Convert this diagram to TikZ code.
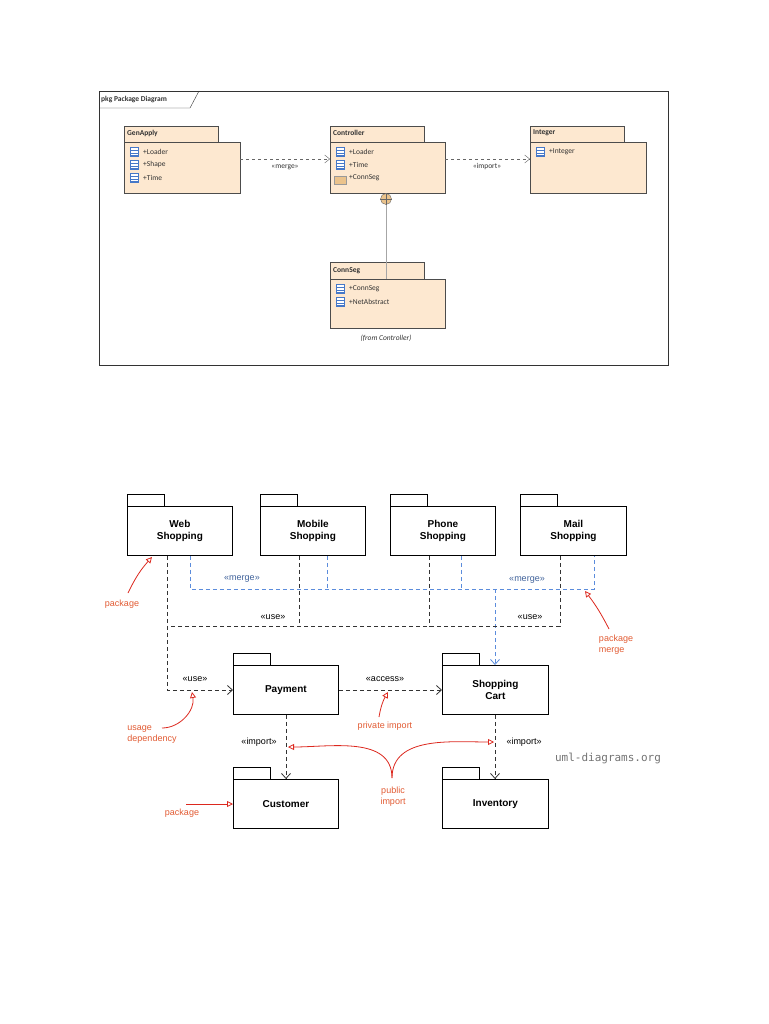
\documentclass[tikz,border=0pt]{standalone}
\usepackage{fontspec}
\setmainfont{Liberation Sans}
\newfontfamily\eafont{Carlito}
\newfontfamily\sitefont{DejaVu Sans Mono}
\usetikzlibrary{arrows.meta,positioning}
\definecolor{pkgfill}{RGB}{253,232,208}
\definecolor{umlblue}{RGB}{91,140,220}
\definecolor{umlred}{RGB}{220,40,30}
\definecolor{notered}{RGB}{225,90,50}
\definecolor{iconblue}{RGB}{70,120,200}
\definecolor{folder}{RGB}{235,195,140}
\tikzset{
  eapkg/.style={draw=black!70, fill=pkgfill, anchor=north west, inner sep=0pt},
  eatxt/.style={font=\eafont\fontsize{7.5}{8}\selectfont, text=black!80, inner sep=1pt},
  eahead/.style={eatxt, font=\eafont\bfseries\fontsize{7.5}{8}\selectfont, anchor=west},
  eadep/.style={draw=black!60, dashed, -{Straight Barb[length=5pt,width=8pt]}},
  pkg/.style={draw, thick, anchor=north west, inner sep=0pt, font=\bfseries\fontsize{10}{12.5}\selectfont, align=center},
  dep/.style={draw=black!80, thick, dash pattern=on 4pt off 3pt, -{Straight Barb[length=5pt,width=9pt]}},
  mrg/.style={draw=umlblue, thick, dash pattern=on 4pt off 3pt},
  lbl/.style={font=\fontsize{9}{10}\selectfont, inner sep=1pt},
  note/.style={font=\fontsize{9}{11}\selectfont, text=notered, inner sep=1pt, align=left},
  ann/.style={draw=umlred, thick, -{Triangle[open,length=6pt,width=6pt]}},
}
\newcommand\clsicon[1]{%
  \draw[iconblue, fill=white] (#1) ++(-4,-4.5) rectangle ++(8,9);
  \draw[iconblue] (#1) ++(-4,-1.5) -- ++(8,0) (#1) ++(-4,1) -- ++(8,0) (#1) ++(-4,3) -- ++(8,0);}
\begin{document}
\begin{tikzpicture}[x=1pt,y=-1pt]
\useasboundingbox (0,0) rectangle (768,1024);

% upper frame
\draw[black!80] (99,91) rectangle (668,365);
\draw[black!80] (99,108) -- (190,108) -- (199,91);
\node[eahead] (frame) at (100,100) {pkg Package Diagram};

% packages
\node[eapkg, minimum width=116pt, minimum height=51pt] (genapply) at (124,142) {};
\draw[black!70, fill=pkgfill] (genapply.north west) rectangle ++(94,-16);
\node[eahead] at (126,133) {GenApply};
\node[eapkg, minimum width=115pt, minimum height=51pt] (controller) at (330,142) {};
\draw[black!70, fill=pkgfill] (controller.north west) rectangle ++(94,-16);
\node[eahead] at (332,133) {Controller};
\node[eapkg, minimum width=116pt, minimum height=51pt] (integer) at (530,142) {};
\draw[black!70, fill=pkgfill] (integer.north west) rectangle ++(94,-16);
\node[eahead] at (532,133) {Integer};
\node[eapkg, minimum width=115pt, minimum height=49pt] (connseg) at (330,279) {};
\draw[black!70, fill=pkgfill] (connseg.north west) rectangle ++(94,-17);
\node[eahead] at (332,271) {ConnSeg};
\node[eatxt, font=\eafont\itshape\fontsize{7.5}{8}\selectfont] at (386,338) {(from Controller)};

% members
\foreach \y/\t in {152/Loader,165/Shape,178/Time}{
  \clsicon{134,\y}
  \node[eatxt, anchor=west] at (142,\y) {+\t};}
\foreach \y/\t in {152/Loader,165/Time}{
  \clsicon{340,\y}
  \node[eatxt, anchor=west] at (348,\y) {+\t};}
\draw[black!40, fill=folder] (334,176) rectangle (346,184);
\node[eatxt, anchor=west] at (348,178) {+ConnSeg};
\clsicon{540,152}
\node[eatxt, anchor=west] at (548,152) {+Integer};
\foreach \y/\t in {289/ConnSeg,302/NetAbstract}{
  \clsicon{340,\y}
  \node[eatxt, anchor=west] at (348,\y) {+\t};}

% relations
\draw[eadep] (genapply.east |- 0,159) -- (controller.west |- 0,159);
\node[eatxt] at (285,167) {«merge»};
\draw[eadep] (controller.east |- 0,159) -- (integer.west |- 0,159);
\node[eatxt] at (487,167) {«import»};
\node[circle, draw=black!60, fill=folder, minimum size=11pt, inner sep=0pt] (nest) at (386,199) {};
\draw[black!60] (nest.north) -- (nest.south) (nest.west) -- (nest.east);
\draw[black!35, thick] (nest.south) -- (connseg.north -| nest);

% lower diagram packages
\node[pkg, minimum width=105pt, minimum height=49pt] (web) at (127,506) {Web\\Shopping};
\node[pkg, minimum width=105pt, minimum height=49pt] (mobile) at (260,506) {Mobile\\Shopping};
\node[pkg, minimum width=105pt, minimum height=49pt] (phone) at (390,506) {Phone\\Shopping};
\node[pkg, minimum width=106pt, minimum height=49pt] (mail) at (520,506) {Mail\\Shopping};
\node[pkg, minimum width=105pt, minimum height=49pt] (payment) at (233,665) {Payment};
\node[pkg, minimum width=106pt, minimum height=49pt] (cart) at (442,665) {Shopping\\Cart};
\node[pkg, minimum width=105pt, minimum height=49pt] (customer) at (233,779) {Customer};
\node[pkg, minimum width=106pt, minimum height=49pt] (inventory) at (442,779) {Inventory};
\foreach \p in {web,mobile,phone,mail,payment,cart,customer,inventory}
  \draw[thick] (\p.north west) rectangle ++(37,-12);

% merge
\coordinate (mrgl) at (190,589);
\coordinate (mrgr) at (594,589);
\draw[mrg] (web.south -| mrgl) -- (mrgl) -- (mrgr) -- (mail.south -| mrgr);
\draw[mrg] (mobile.south -| 327,0) -- (327,589);
\draw[mrg] (phone.south -| 461,0) -- (461,589);
\draw[mrg, -{Straight Barb[length=5pt,width=9pt]}] (495,589) -- (cart.north -| 495,0);
\node[lbl, text=umlblue!70!black] at (242,579) {«merge»};
\node[lbl, text=umlblue!70!black] at (527,580) {«merge»};

% use
\coordinate (usel) at (167,626);
\draw[dep, -] (mobile.south -| 299,0) -- (299,626);
\draw[dep, -] (phone.south -| 429,0) -- (429,626);
\draw[dep, -] (mail.south -| 560,0) -- (560,626) -- (usel);
\draw[dep] (web.south -| usel) -- (167,690) -- (payment.west |- 0,690);
\node[lbl] at (273,617) {«use»};
\node[lbl] at (530,617) {«use»};
\node[lbl] at (195,679) {«use»};

% access, import
\draw[dep] (payment.east |- 0,690) -- (cart.west |- 0,690);
\node[lbl] at (385,679) {«access»};
\draw[dep] (payment.south -| 286,0) -- (customer.north -| 286,0);
\node[lbl] at (259,742) {«import»};
\draw[dep] (cart.south -| 495,0) -- (inventory.north -| 495,0);
\node[lbl] at (524,742) {«import»};

\node[font=\sitefont\fontsize{11}{13}\selectfont, text=black!55] (site) at (608,758) {uml-diagrams.org};

% notes
\node[note] (n1) at (122,604) {package};
\draw[ann] (128,593) to[bend left=8] (152,557);
\node[note] (n2) at (616,645) {package\\merge};
\draw[ann] (609,629) to[bend right=5] (585,591);
\node[note] (n3) at (152,735) {usage\\dependency};
\draw[ann] (162,728) to[out=0,in=-80] (192,692);
\node[note] (n4) at (385,726) {private import};
\draw[ann] (379,717) to[bend left=10] (388,692);
\node[note, align=center] (n5) at (393,797) {public\\import};
\coordinate (fork) at (392,778);
\draw[ann] (fork) to[out=90,in=0] (288,747);
\draw[ann] (fork) to[out=90,in=180] (494,742);
\node[note] (n6) at (182,813) {package};
\draw[ann] (186,804) -- (customer.west |- 0,804);
\end{tikzpicture}
\end{document}
